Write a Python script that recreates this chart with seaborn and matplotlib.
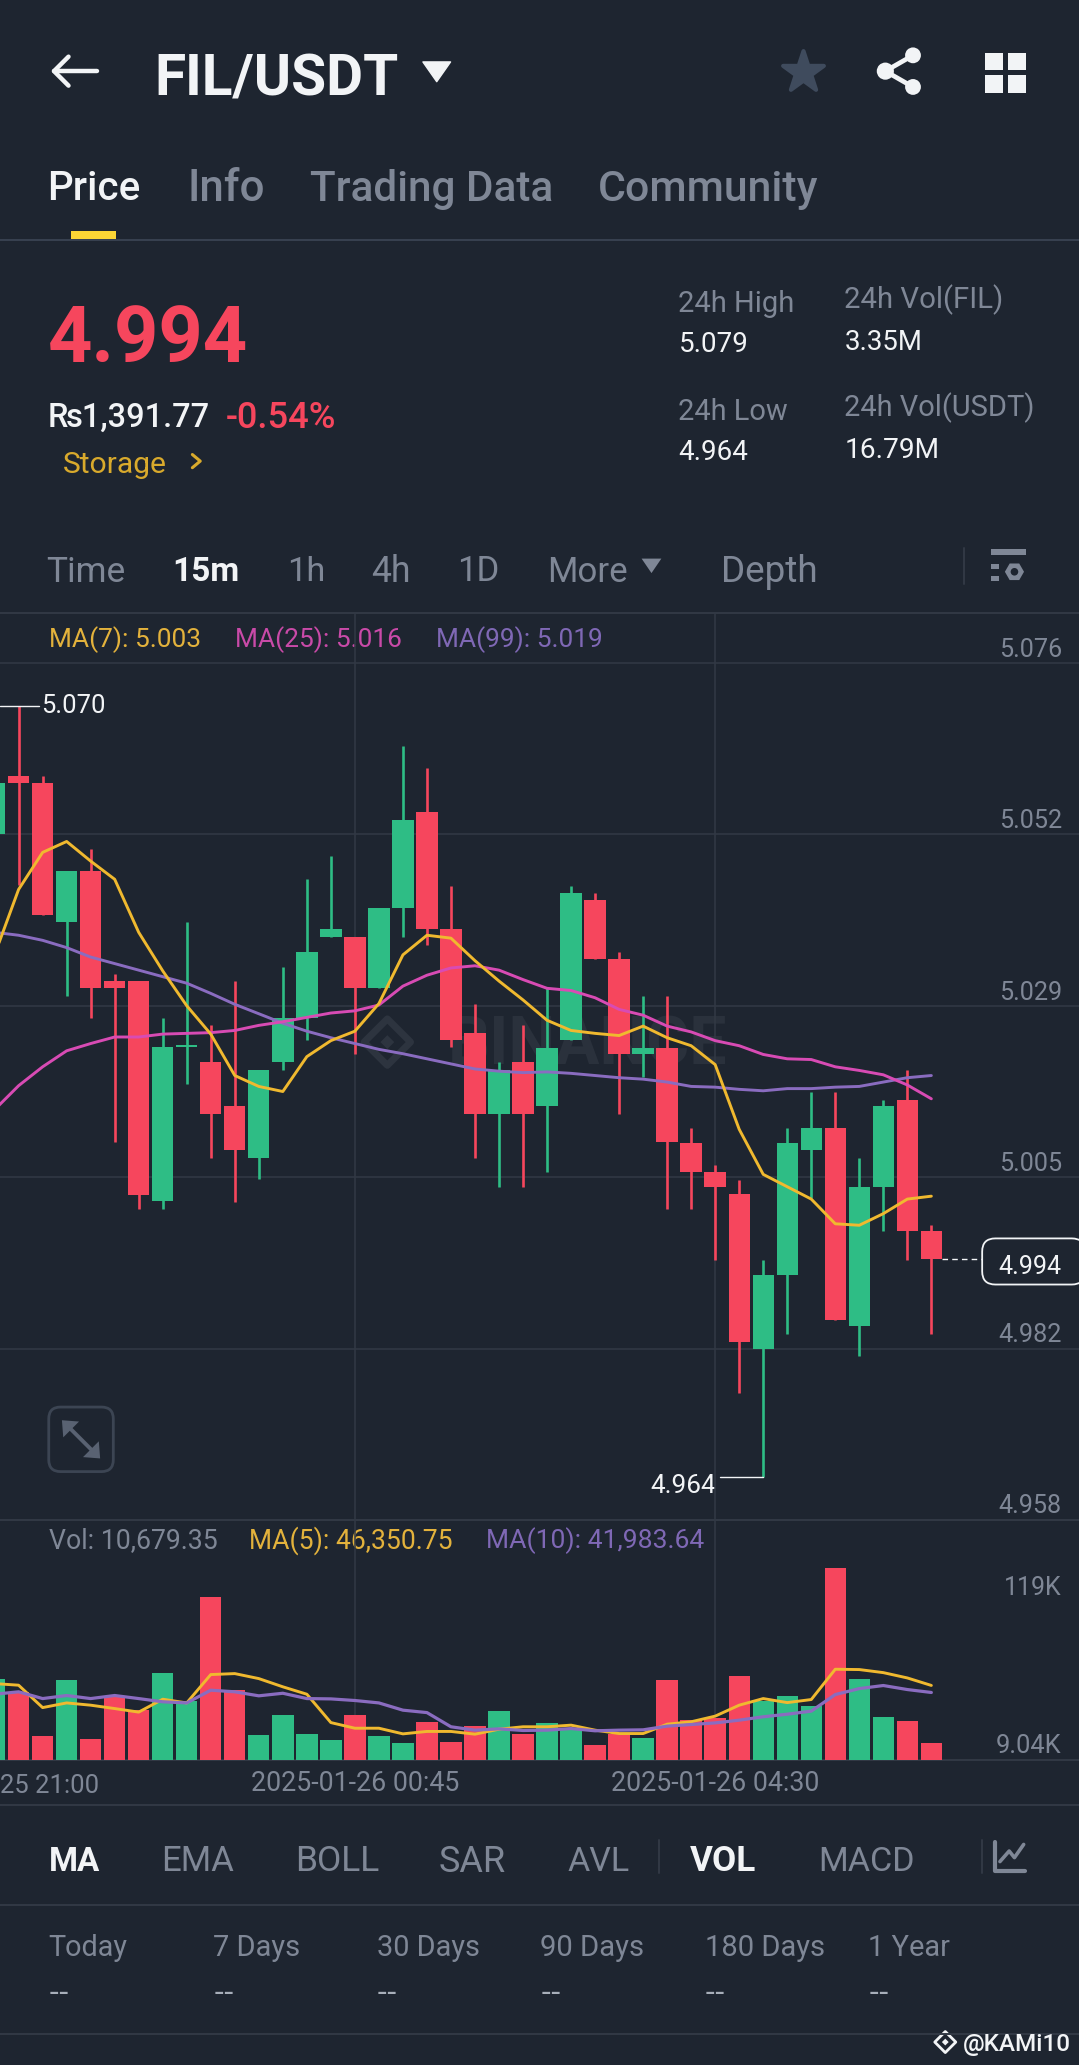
import numpy as np
import pandas as pd
import matplotlib
matplotlib.use("Agg")
import matplotlib.pyplot as plt
from matplotlib.patches import Rectangle, FancyBboxPatch, Polygon, Circle
import seaborn as sns

# ---------- data ----------
candle_index = list(range(-1, 39))
opens = [5.0524, 5.0604, 5.0594, 5.0403, 5.0473, 5.0322, 5.0322, 5.0019, 5.0231, 5.0210,
         5.0150, 5.0079, 5.0210, 5.0271, 5.0382, 5.0382, 5.0312, 5.0423, 5.0554, 5.0393,
         5.0251, 5.0139, 5.0210, 5.0150, 5.0241, 5.0433, 5.0353, 5.0221, 5.0230, 5.0099,
         5.0059, 5.0029, 4.9816, 4.9917, 5.0090, 5.0120, 4.9847, 5.0038, 5.0159, 4.9978]
closes = [5.0594, 5.0594, 5.0413, 5.0473, 5.0312, 5.0312, 5.0028, 5.0231, 5.0234, 5.0139,
          5.0089, 5.0200, 5.0271, 5.0362, 5.0393, 5.0312, 5.0423, 5.0544, 5.0393, 5.0241,
          5.0139, 5.0200, 5.0139, 5.0230, 5.0443, 5.0353, 5.0221, 5.0230, 5.0100, 5.0059,
          5.0038, 4.9826, 4.9917, 5.0099, 5.0120, 4.9856, 5.0038, 5.0150, 4.9978, 4.9940]
highs = [5.0594, 5.0700, 5.0604, 5.0473, 5.0503, 5.0331, 5.0322, 5.0271, 5.0403, 5.0261,
         5.0322, 5.0200, 5.0341, 5.0463, 5.0494, 5.0382, 5.0423, 5.0645, 5.0615, 5.0453,
         5.0291, 5.0210, 5.0261, 5.0312, 5.0453, 5.0443, 5.0362, 5.0302, 5.0302, 5.0120,
         5.0069, 5.0048, 4.9938, 5.0120, 5.0169, 5.0169, 5.0079, 5.0159, 5.0200, 4.9987]
lows = [5.0524, 5.0454, 5.0413, 5.0302, 5.0271, 5.0100, 5.0008, 5.0008, 5.0180, 5.0079,
        5.0018, 5.0049, 5.0200, 5.0241, 5.0382, 5.0221, 5.0312, 5.0382, 5.0372, 5.0231,
        5.0079, 5.0039, 5.0039, 5.0059, 5.0241, 5.0353, 5.0139, 5.0190, 5.0008, 5.0008,
        4.9938, 4.9755, 4.9640, 4.9837, 5.0023, 4.9856, 4.9806, 4.9978, 4.9938, 4.9837]
ma7 = [5.0358, 5.0448, 5.0499, 5.0514, 5.0487, 5.0462, 5.0389, 5.0336, 5.0288, 5.0249,
       5.0192, 5.0177, 5.0170, 5.0218, 5.0240, 5.0253, 5.0291, 5.0358, 5.0385, 5.0381,
       5.0350, 5.0322, 5.0296, 5.0268, 5.0254, 5.0250, 5.0247, 5.0260, 5.0244, 5.0233,
       5.0207, 5.0118, 5.0056, 5.0039, 5.0022, 4.9988, 4.9986, 5.0002, 5.0022, 5.0026]
ma25 = [5.0145, 5.0178, 5.0204, 5.0226, 5.0236, 5.0245, 5.0245, 5.0249, 5.0250, 5.0251,
        5.0254, 5.0261, 5.0266, 5.0272, 5.0278, 5.0281, 5.0289, 5.0315, 5.0330, 5.0340,
        5.0343, 5.0337, 5.0324, 5.0312, 5.0309, 5.0299, 5.0283, 5.0275, 5.0260, 5.0252,
        5.0240, 5.0233, 5.0221, 5.0215, 5.0214, 5.0204, 5.0199, 5.0193, 5.0179, 5.0160]
ma99 = [5.0389, 5.0385, 5.0378, 5.0368, 5.0355, 5.0346, 5.0337, 5.0328, 5.0319, 5.0305,
        5.0290, 5.0277, 5.0264, 5.0253, 5.0244, 5.0236, 5.0228, 5.0222, 5.0215, 5.0208,
        5.0201, 5.0198, 5.0196, 5.0197, 5.0195, 5.0192, 5.0189, 5.0187, 5.0183, 5.0177,
        5.0176, 5.0173, 5.0171, 5.0174, 5.0174, 5.0176, 5.0177, 5.0183, 5.0189, 5.0192]
volume = [50.2, 42.4, 14.9, 50.0, 13.2, 39.3, 31.0, 54.3, 36.8, 101.2,
          43.4, 15.3, 28.3, 16.5, 12.4, 27.7, 14.9, 10.9, 23.6, 11.4,
          21.1, 30.4, 16.1, 23.1, 18.6, 9.1, 16.5, 14.0, 49.6, 24.8,
          26.4, 52.3, 36.8, 39.5, 33.5, 119.0, 50.2, 26.9, 24.2, 10.7]
vol_ma5 = [47.5, 46.5, 32.6, 35.5, 34.1, 32.0, 29.8, 37.8, 35.5, 53.1,
           53.7, 50.6, 45.5, 40.9, 23.3, 19.8, 19.8, 16.3, 17.8, 17.8,
           16.1, 19.2, 20.7, 20.7, 21.7, 18.6, 16.5, 16.5, 22.3, 23.8,
           27.3, 34.1, 38.2, 35.7, 37.6, 56.4, 56.2, 54.3, 51.0, 46.35]
vol_ma10 = [40.9, 42.4, 38.2, 40.1, 38.2, 40.1, 38.2, 36.2, 35.5, 43.4,
            42.4, 39.9, 41.5, 38.2, 38.0, 37.0, 35.5, 31.0, 29.5, 20.7,
            18.6, 19.4, 18.4, 18.6, 19.6, 18.2, 18.6, 18.8, 21.1, 22.1,
            23.1, 24.8, 26.9, 28.5, 30.4, 40.7, 44.4, 46.3, 43.8, 41.98]
price_ticks = [5.076, 5.052, 5.029, 5.005, 4.982, 4.958]
date_positions = [14, 29]
date_labels = ["2025-01-26 00:45", "2025-01-26 04:30"]
cut_date_label = "25 21:00"

tab_labels = ["Price", "Info", "Trading Data", "Community"]
interval_labels = ["Time", "15m", "1h", "4h", "1D", "More", "Depth"]
indicator_labels = ["MA", "EMA", "BOLL", "SAR", "AVL", "VOL", "MACD"]
period_labels = ["Today", "7 Days", "30 Days", "90 Days", "180 Days", "1 Year"]

# ---------- style ----------
BG = "#1e2530"
GRID = "#323945"
GREY = "#7f8796"
WHITE = "#f2f4f6"
GREEN = "#2ebd85"
RED = "#f6465d"
GOLD = "#f0b92f"
PINK = "#d84bb4"
PURPLE = "#8a6cc0"

sns.set_theme(style="dark", rc={"axes.facecolor": "none", "figure.facecolor": BG,
                                "savefig.facecolor": BG})
plt.rcParams["font.family"] = ["Roboto", "DejaVu Sans"]

W, H = 1079, 2065
SW = 819.0
S = W / SW
SH = H / S
fig = plt.figure(figsize=(W / 100, H / 100), dpi=100, facecolor=BG)

bg = fig.add_axes([0, 0, 1, 1], zorder=0)
bg.set_xlim(0, SW)
bg.set_ylim(SH, 0)
bg.axis("off")
renderer = fig.canvas.get_renderer()


def T(s, x0, x1, y, color=GREY, weight="normal", zorder=3, family=None):
    """Text fitted to the span x0..x1, with its capitals centred on y."""
    t = bg.text(x0, y, s, ha="left", va="baseline", color=color, fontweight=weight,
                fontsize=20, zorder=zorder)
    if family:
        t.set_family(family)
    w = t.get_window_extent(renderer).width
    size = 20 * (x1 - x0) * S / w
    t.set_fontsize(size)
    t.set_y(y + 0.355 * size * (100 / 72) / S)
    return t


def hline(y, color=GRID, lw=1.4):
    bg.plot([0, SW], [y, y], color=color, lw=lw, solid_capstyle="butt")


# ---------- header ----------
bg.plot([41, 74], [54, 54], color=WHITE, lw=3.2, solid_capstyle="round")
bg.plot([52, 41, 52], [43, 54, 65], color=WHITE, lw=3.2, solid_capstyle="round")
T("FIL/USDT", 117, 302, 57, WHITE, "bold")
bg.add_patch(Polygon([[321, 47], [342, 47], [331.5, 62]], closed=True, fc=WHITE, ec=WHITE, lw=1, joinstyle="round"))
bg.scatter([609.5], [55], marker="*", s=950, color="#3f4b5d", edgecolors="#3f4b5d", linewidths=3)
share = [(693, 42), (672, 54), (693, 66)]
bg.plot([p[0] for p in share], [p[1] for p in share], color=WHITE, lw=3.4)
for p in share:
    bg.add_patch(Circle(p, 6.5 if p[0] == 672 else 6, fc=WHITE, ec="none"))
for (x, y) in [(748, 40), (765, 40), (748, 57), (765, 57)]:
    bg.add_patch(Rectangle((x, y), 13.5, 13.5, fc=WHITE, ec="none"))

tab_pos = [(36, 107), (142, 201), (235, 420), (454, 621)]
for i, (s, p) in enumerate(zip(tab_labels, tab_pos)):
    T(s, p[0], p[1], 141, WHITE if i == 0 else GREY, "medium")
bg.add_patch(Rectangle((54, 175), 34, 6.5, fc="#fcd535", ec="none"))
hline(182.5, "#384150")

# ---------- price block ----------
T("4.994", 36, 188, 254, RED, "bold")
T("\u20a81,391.77", 36, 159, 315, WHITE, "medium")
T("-0.54%", 171, 255, 315, RED, "medium")
T("Storage", 48, 127, 351, "#d9aa2c")
bg.plot([146, 152, 146], [345, 350, 355], color="#d9aa2c", lw=2.2)
T("24h High", 515, 603, 229, GREY)
T("5.079", 515, 568, 260, WHITE)
T("24h Vol(FIL)", 641, 762, 226, GREY)
T("3.35M", 641, 700, 258, WHITE)
T("24h Low", 515, 598, 311, GREY)
T("4.964", 515, 568, 342, WHITE)
T("24h Vol(USDT)", 641, 785, 308, GREY)
T("16.79M", 641, 713, 340, WHITE)

# ---------- interval row ----------
int_pos = [(35, 95), (131, 182), (218, 247), (282, 312), (347, 379), (415, 476), (547, 620)]
for s, p in zip(interval_labels, int_pos):
    if s == "15m":
        T(s, p[0], p[1], 432, WHITE, "bold")
    else:
        T(s, p[0], p[1], 432, GREY)
bg.add_patch(Polygon([[487, 424], [502, 424], [494.5, 435]], closed=True, fc=GREY, ec="none"))
bg.plot([732, 732], [416, 443], color=GRID, lw=1.4)
bg.add_patch(Rectangle((752, 417), 27, 4, fc=GREY, ec="none"))
bg.add_patch(Rectangle((752, 428), 6, 4, fc=GREY, ec="none"))
bg.add_patch(Rectangle((752, 437), 6, 4, fc=GREY, ec="none"))
bg.scatter([770], [434], marker="H", s=190, fc=GREY, ec="none")
bg.scatter([770], [434], marker="o", s=30, fc=BG, ec="none")
hline(465)

# ---------- chart headers and axis texts ----------
T("MA(7): 5.003", 37, 152, 484, "#e3b23c")
T("MA(25): 5.016", 178, 304, 484, "#c94aa8")
T("MA(99): 5.019", 331, 457, 484, "#7f68b5")
label_y = [492, 622, 752, 882, 1012, 1142]
for v, y in zip(price_ticks, label_y):
    T(f"{v:.3f}", 758, 806, y, GREY)

# watermark
bg.scatter([294], [791], marker="D", s=560, fc="none", ec="#2d343f", lw=5)
bg.scatter([294], [791], marker="D", s=50, fc="#2d343f", ec="none")
T("BINANCE", 340, 552, 790, "#2a313c", "bold", zorder=1)

# expand icon
bg.add_patch(FancyBboxPatch((37, 1068), 49, 49, boxstyle="round,pad=0,rounding_size=9",
                            fc="none", ec="#3c4553", lw=2))
bg.plot([50, 73], [1081, 1104], color="#596272", lw=2.8)
bg.add_patch(Polygon([[47, 1078], [60, 1079], [48, 1091]], closed=True, fc="#596272", ec="none"))
bg.add_patch(Polygon([[76, 1107], [63, 1106], [75, 1094]], closed=True, fc="#596272", ec="none"))

# price tag
bg.add_patch(FancyBboxPatch((745.5, 940), 78, 35, boxstyle="round,pad=0,rounding_size=10",
                            fc=BG, ec=WHITE, lw=1.3, zorder=2))
T(f"{closes[-1]:.3f}", 758, 806, 960, WHITE, zorder=4)

T(f"{max(highs):.3f}", 31, 80, 534, WHITE)
T(f"{min(lows):.3f}", 494, 544, 1126, WHITE)

T("Vol: 10,679.35", 37, 165, 1168, GREY)
T("MA(5): 46,350.75", 189, 343, 1168, "#e3b23c")
T("MA(10): 41,983.64", 369, 534, 1168, "#7f68b5")
T("119K", 762, 806, 1204, GREY)
T("9.04K", 756, 806, 1324, GREY)
T(cut_date_label, 0, 75, 1354, GREY)

# ---------- lower panels ----------
hline(1370)
ind_pos = [(37, 76), (122, 177), (224, 288), (333, 384), (431, 478), (524, 574), (621, 694)]
for s, p in zip(indicator_labels, ind_pos):
    if s in ("MA", "VOL"):
        T(s, p[0], p[1], 1411, WHITE, "bold")
    else:
        T(s, p[0], p[1], 1411, GREY)
bg.plot([500, 500], [1397, 1422], color=GRID, lw=1.4)
bg.plot([745, 745], [1397, 1422], color=GRID, lw=1.4)
bg.plot([755, 755, 778], [1398, 1420, 1420], color=GREY, lw=3)
bg.plot([759, 766, 770, 777], [1413, 1405, 1410, 1400], color=GREY, lw=2.6)
hline(1446)
per_pos = [(37, 97), (162, 228), (286, 364), (410, 489), (535, 626), (659, 721)]
for s, p in zip(period_labels, per_pos):
    T(s, p[0], p[1], 1477, GREY)
    T("--", p[0], p[0] + 16, 1511, "#a8afba", family="DejaVu Sans")
hline(1544)
bg.scatter([717.5], [1550], marker="D", s=115, fc="none", ec=WHITE, lw=2)
bg.scatter([717.5], [1550], marker="D", s=12, fc=WHITE, ec="none")
T("@KAMi10", 731, 813, 1550, WHITE, "medium", zorder=5)

# ---------- candle axes ----------
frame = pd.DataFrame({"i": candle_index, "open": opens, "close": closes, "high": highs, "low": lows,
                      "ma7": ma7, "ma25": ma25, "ma99": ma99, "vol": np.array(volume) * 1000,
                      "vma5": np.array(vol_ma5) * 1000, "vma10": np.array(vol_ma10) * 1000})
frame["dir"] = np.where(frame["close"] >= frame["open"], "up", "down")
frame["color"] = frame["dir"].map({"up": GREEN, "down": RED})

x_lo = (0 - 18.6) / 24.02
x_hi = (W - 18.6) / 24.02
px_per_price = (1154 - 503) / (price_ticks[0] - price_ticks[-1])

ax = fig.add_axes([0, 1 - 1154 / SH, 1, (1154 - 465) / SH], zorder=2)
ax.set_facecolor("none")
ax.vlines(frame["i"], frame["low"], frame["high"], colors=frame["color"], lw=1.9, zorder=2)
ax.bar(frame["i"], (frame["close"] - frame["open"]).abs(), bottom=frame[["open", "close"]].min(axis=1),
       width=0.89, color=frame["color"], edgecolor="none", linewidth=0, zorder=3)
sns.lineplot(data=frame, x="i", y="ma99", ax=ax, color=PURPLE, lw=2.1, estimator=None, sort=False, zorder=4)
sns.lineplot(data=frame, x="i", y="ma25", ax=ax, color=PINK, lw=2.1, estimator=None, sort=False, zorder=5)
sns.lineplot(data=frame, x="i", y="ma7", ax=ax, color=GOLD, lw=2.1, estimator=None, sort=False, zorder=6)
ax.set_xticks(date_positions)
# the labels are rounded; the grid itself is evenly spaced between the end labels
ax.set_yticks(np.linspace(price_ticks[0], price_ticks[-1], len(price_ticks)))
ax.set_xlim(x_lo, x_hi)
ax.set_ylim(price_ticks[-1], price_ticks[0] + (503 - 465) / px_per_price)
ax.set_xlabel("")
ax.set_ylabel("")
ax.tick_params(length=0, labelbottom=False, labelleft=False)
ax.grid(True, color=GRID, lw=1.1, zorder=0)
ax.set_axisbelow(True)
for sp in ax.spines.values():
    sp.set_visible(False)

# high, low and last price leaders
hi_row = frame.loc[frame["high"].idxmax()]
lo_row = frame.loc[frame["low"].idxmin()]
ax.plot([x_lo, hi_row["i"] + 0.87], [hi_row["high"]] * 2, color=WHITE, lw=1.0, zorder=7)
ax.plot([lo_row["i"] - 1.8, lo_row["i"]], [lo_row["low"]] * 2, color=WHITE, lw=1.0, zorder=7)
ax.plot([frame["i"].iloc[-1] + 0.45, frame["i"].iloc[-1] + 2.1], [frame["close"].iloc[-1]] * 2,
        color=WHITE, lw=1.0, ls=(0, (4, 3)), zorder=7)

# ---------- volume axes ----------
axv = fig.add_axes([0, 1 - 1336 / SH, 1, (1336 - 1154) / SH], zorder=2)
axv.set_facecolor("none")
sns.barplot(data=frame, x="i", y="vol", hue="dir", palette={"up": GREEN, "down": RED}, native_scale=True,
            dodge=False, width=0.89, saturation=1, legend=False, ax=axv, zorder=3, errorbar=None,
            linewidth=0, edgecolor="none")
sns.lineplot(data=frame, x="i", y="vma5", ax=axv, color=GOLD, lw=2.1, estimator=None, sort=False, zorder=4)
sns.lineplot(data=frame, x="i", y="vma10", ax=axv, color=PURPLE, lw=2.3, estimator=None, sort=False, zorder=5)
axv.set_yticks([])
axv.set_xticks(date_positions)
axv.set_xticklabels(date_labels, color=GREY, fontsize=14.0, fontweight="normal")
for lab in axv.get_xticklabels():
    w = lab.get_window_extent(renderer).width
    lab.set_fontsize(14.0 * 159 * S / w)
axv.set_xlim(x_lo, x_hi)
axv.set_ylim(0, 148800)
axv.set_xlabel("")
axv.set_ylabel("")
axv.tick_params(axis="x", length=0, pad=7)
axv.xaxis.grid(True, color=GRID, lw=1.1, zorder=0)
axv.set_axisbelow(True)
for name, sp in axv.spines.items():
    sp.set_visible(name == "bottom" or name == "top")
    sp.set_color(GRID)
    sp.set_linewidth(1.4)

fig.savefig("out.png", dpi=100, facecolor=BG)
